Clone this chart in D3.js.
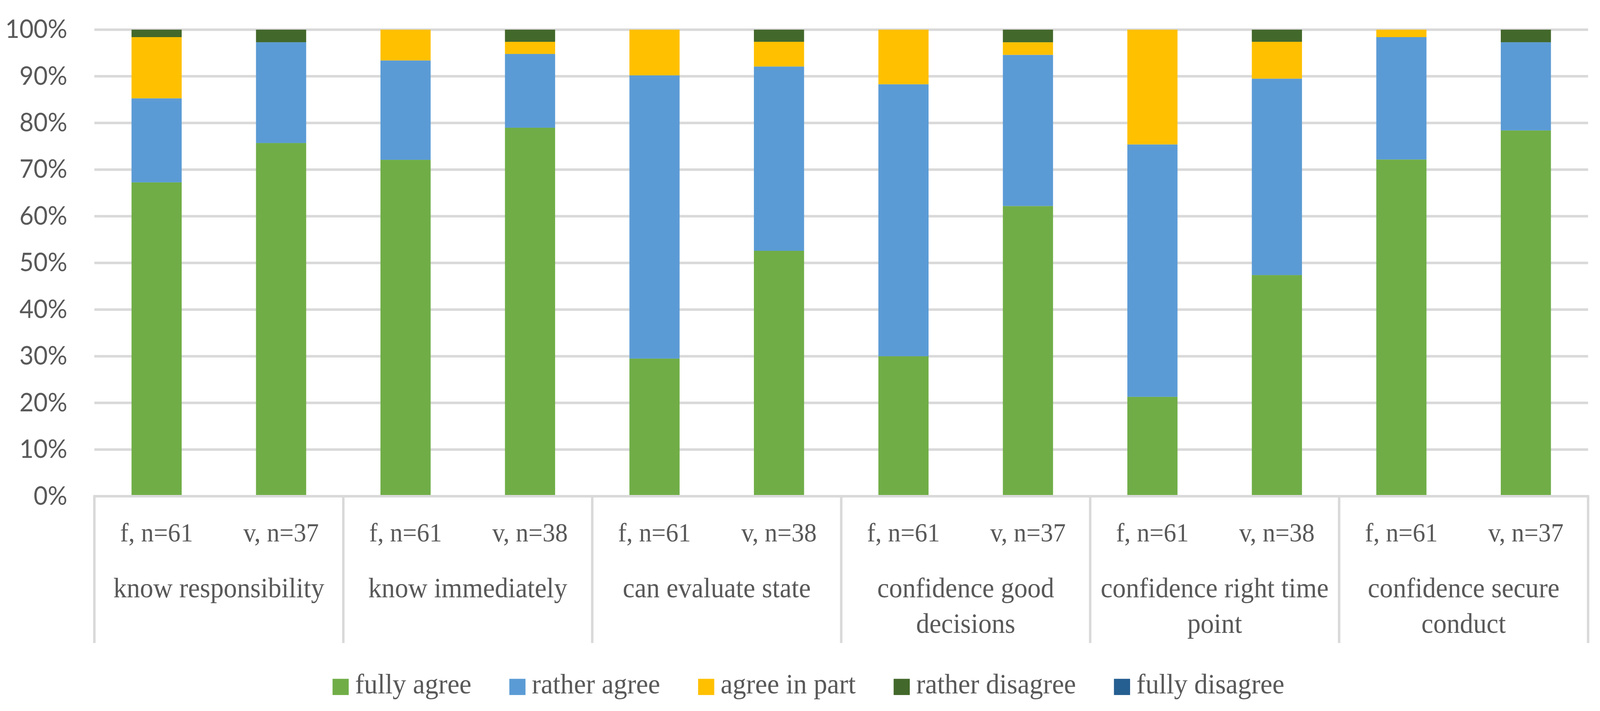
<!DOCTYPE html>
<html>
<head>
<meta charset="utf-8">
<script src="https://cdn.jsdelivr.net/npm/d3@7"></script>
<style>
  html, body { margin: 0; padding: 0; background: #fff; overflow: hidden; }
  #chart { width: 100vw; height: 100vh; }
  svg { display: block; width: 100%; height: 100%; }
  .tick-label { font-family: Lato, "Open Sans", sans-serif; fill: #595959; }
  .cat-label { font-family: "Liberation Serif", "DejaVu Serif", serif; fill: #595959; }
</style>
</head>
<body>
<div id="chart"></div>
<script>
// question items (outer category level)
const groups = ["know responsibility", "know immediately", "can evaluate state",
    "confidence good decisions", "confidence right time point", "confidence secure conduct"];

// sample per bar (inner category level)
const subLabels = ["f, n=61", "v, n=37", "f, n=61", "v, n=38", "f, n=61", "v, n=38",
    "f, n=61", "v, n=37", "f, n=61", "v, n=38", "f, n=61", "v, n=37"];

const seriesNames = ["fully agree", "rather agree", "agree in part", "rather disagree", "fully disagree"];
const seriesColors = ["#70AD47", "#5B9BD5", "#FFC000", "#43682B", "#255E91"];

// shares in percent, one value per bar
const fullyAgree     = [67.2, 75.7, 72.1, 78.9, 29.5, 52.6, 30.0, 62.2, 21.3, 47.4, 72.1, 78.4];
const ratherAgree    = [18.0, 21.6, 21.3, 15.8, 60.7, 39.5, 58.3, 32.4, 54.1, 42.1, 26.2, 18.9];
const agreeInPart    = [13.1, 0.0, 6.6, 2.6, 9.8, 5.3, 11.7, 2.7, 24.6, 7.9, 1.6, 0.0];
const ratherDisagree = [1.6, 2.7, 0.0, 2.6, 0.0, 2.6, 0.0, 2.7, 0.0, 2.6, 0.0, 2.7];
const fullyDisagree  = [0, 0, 0, 0, 0, 0, 0, 0, 0, 0, 0, 0];

const yTicks = [0, 0.1, 0.2, 0.3, 0.4, 0.5, 0.6, 0.7, 0.8, 0.9, 1];

const width = 4261, height = 1820;
const plot = { left: 251.3, right: 4229.3, top: 75.9, bottom: 1270.2 };

// drawn in a fixed 4261x1820 frame, stretched to whatever the window is
const svg = d3.select("#chart").append("svg")
    .attr("viewBox", "0 0 " + width + " " + height)
    .attr("preserveAspectRatio", "none");

// build table for d3.stack
const seriesValues = [fullyAgree, ratherAgree, agreeInPart, ratherDisagree, fullyDisagree];
const table = subLabels.map(function (s, i) {
    let row = { idx: i };
    seriesNames.forEach(function (name, k) { row[name] = seriesValues[k][i]; });
    return row;
});

const stacked = d3.stack()
    .keys(seriesNames)
    .offset(d3.stackOffsetExpand)(table);

const x = d3.scaleBand()
    .domain(d3.range(subLabels.length))
    .range([plot.left, plot.right])
    .paddingInner(0.597)
    .paddingOuter(0.2985);

const xGroup = d3.scaleBand()
    .domain(groups)
    .range([plot.left, plot.right]);

const y = d3.scaleLinear()
    .domain([0, 1])
    .range([plot.bottom, plot.top]);

// gridlines
svg.append("g")
    .selectAll("line")
    .data(yTicks.slice(1))
    .join("line")
    .attr("x1", plot.left)
    .attr("x2", plot.right)
    .attr("y1", d => y(d))
    .attr("y2", d => y(d))
    .attr("stroke", "#D9D9D9")
    .attr("stroke-width", 6.5);

// y axis labels
const yAxis = d3.axisLeft(y)
    .tickValues(yTicks)
    .tickFormat(d3.format(".0%"))
    .tickSize(0)
    .tickPadding(72);

const yAxisG = svg.append("g")
    .attr("transform", "translate(" + plot.left + ",0)")
    .call(yAxis);
yAxisG.select(".domain").remove();
yAxisG.selectAll("text")
    .attr("class", "tick-label")
    .style("font-size", "65px");

// stacked bars
svg.append("g")
    .selectAll("g")
    .data(stacked)
    .join("g")
    .attr("fill", (d, k) => seriesColors[k])
    .selectAll("rect")
    .data(d => d)
    .join("rect")
    .attr("x", d => x(d.data.idx))
    .attr("width", x.bandwidth())
    .attr("y", d => y(d[1]))
    .attr("height", d => y(d[0]) - y(d[1]));

// category axis: baseline and group separators
const axisG = svg.append("g").attr("stroke", "#D9D9D9").attr("stroke-width", 6.5);
axisG.append("line")
    .attr("x1", plot.left - 3)
    .attr("x2", plot.right + 3)
    .attr("y1", plot.bottom)
    .attr("y2", plot.bottom);

const sepX = groups.map(g => xGroup(g)).concat([plot.right]);
axisG.selectAll(".sep")
    .data(sepX)
    .join("line")
    .attr("class", "sep")
    .attr("x1", d => d)
    .attr("x2", d => d)
    .attr("y1", plot.bottom)
    .attr("y2", 1646);

// inner labels
svg.append("g")
    .selectAll("text")
    .data(subLabels)
    .join("text")
    .attr("class", "cat-label")
    .attr("x", (d, i) => x(i) + x.bandwidth() / 2)
    .attr("y", 1386)
    .attr("text-anchor", "middle")
    .style("font-size", "67px")
    .text(d => d);

// outer labels, wrapped to group width
const groupText = svg.append("g")
    .selectAll("text")
    .data(groups)
    .join("text")
    .attr("class", "cat-label")
    .attr("text-anchor", "middle")
    .style("font-size", "71px")
    .attr("x", d => xGroup(d) + xGroup.bandwidth() / 2)
    .attr("y", 1529);

groupText.each(function (d) {
    let text = d3.select(this);
    let words = d.split(" ");
    let line = [];
    let tspan = text.append("tspan").attr("x", text.attr("x")).attr("dy", 0);
    words.forEach(function (w) {
        line.push(w);
        tspan.text(line.join(" "));
        if (tspan.node().getComputedTextLength() > 640 && line.length > 1) {
            line.pop();
            tspan.text(line.join(" "));
            line = [w];
            tspan = text.append("tspan").attr("x", text.attr("x")).attr("dy", 91).text(w);
        }
    });
});

// legend
const legend = svg.append("g");
const items = legend.selectAll("g")
    .data(seriesNames)
    .join("g");

items.append("rect")
    .attr("width", 43)
    .attr("height", 41.5)
    .attr("y", 1737.6)
    .attr("fill", (d, k) => seriesColors[k]);

items.append("text")
    .attr("class", "cat-label")
    .attr("x", 60)
    .attr("y", 1775)
    .style("font-size", "72px")
    .text(d => d);

let widths = [];
items.each(function () {
    widths.push(d3.select(this).select("text").node().getComputedTextLength() + 60);
});
const itemGap = 101;
const total = d3.sum(widths) + itemGap * (widths.length - 1);
let pos = 2153 - total / 2;
items.attr("transform", function (d, k) {
    let t = "translate(" + pos + ",0)";
    pos += widths[k] + itemGap;
    return t;
});
</script>
</body>
</html>
